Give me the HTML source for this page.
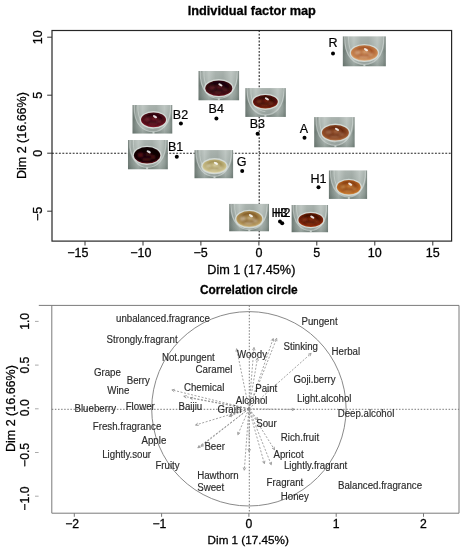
<!DOCTYPE html>
<html><head><meta charset="utf-8"><title>Individual factor map</title>
<style>html,body{margin:0;padding:0;background:#fff;} svg{display:block;}</style></head>
<body>
<svg width="463" height="550" viewBox="0 0 463 550">
<defs>
<filter id="blr" x="-50%" y="-50%" width="200%" height="200%"><feGaussianBlur stdDeviation="1.1"/></filter>
<filter id="soft"><feGaussianBlur stdDeviation="0.35"/></filter>
<linearGradient id="gbg" x1="0" y1="0" x2="1" y2="0"><stop offset="0" stop-color="#65716b"/><stop offset="0.12" stop-color="#86928c"/><stop offset="0.26" stop-color="#aab4af"/><stop offset="0.42" stop-color="#88948e"/><stop offset="0.6" stop-color="#828e88"/><stop offset="0.8" stop-color="#aab4af"/><stop offset="0.92" stop-color="#8e9a94"/><stop offset="1" stop-color="#6c7973"/></linearGradient>
<linearGradient id="gsh" x1="0" y1="0" x2="0" y2="1"><stop offset="0" stop-color="#ffffff" stop-opacity="0.18"/><stop offset="0.5" stop-color="#ffffff" stop-opacity="0"/><stop offset="1" stop-color="#50605a" stop-opacity="0.25"/></linearGradient>
<clipPath id="cp0"><rect x="132.3" y="104.9" width="40.2" height="28.8"/></clipPath>
<radialGradient id="wn0" cx="0.5" cy="0.42" r="0.6"><stop offset="0" stop-color="#5a0c1a"/><stop offset="0.45" stop-color="#2c040e"/><stop offset="0.8" stop-color="#5a0c1a"/><stop offset="1" stop-color="#9a2a38"/></radialGradient>
<clipPath id="cp1"><rect x="198.3" y="70.9" width="41.0" height="29.6"/></clipPath>
<radialGradient id="wn1" cx="0.5" cy="0.42" r="0.6"><stop offset="0" stop-color="#3e0a12"/><stop offset="0.45" stop-color="#160308"/><stop offset="0.8" stop-color="#3e0a12"/><stop offset="1" stop-color="#7e1a24"/></radialGradient>
<clipPath id="cp2"><rect x="245.2" y="88.1" width="40.7" height="28.8"/></clipPath>
<radialGradient id="wn2" cx="0.5" cy="0.42" r="0.6"><stop offset="0" stop-color="#5e1208"/><stop offset="0.45" stop-color="#320806"/><stop offset="0.8" stop-color="#5e1208"/><stop offset="1" stop-color="#b04a20"/></radialGradient>
<clipPath id="cp3"><rect x="127.9" y="139.9" width="40.0" height="29.6"/></clipPath>
<radialGradient id="wn3" cx="0.5" cy="0.42" r="0.6"><stop offset="0" stop-color="#160306"/><stop offset="0.45" stop-color="#080204"/><stop offset="0.8" stop-color="#160306"/><stop offset="1" stop-color="#8a1020"/></radialGradient>
<clipPath id="cp4"><rect x="194.3" y="150.1" width="39.0" height="28.3"/></clipPath>
<radialGradient id="wn4" cx="0.5" cy="0.42" r="0.6"><stop offset="0" stop-color="#cabf8a"/><stop offset="0.45" stop-color="#a49458"/><stop offset="0.8" stop-color="#cabf8a"/><stop offset="1" stop-color="#ebe6cc"/></radialGradient>
<clipPath id="cp5"><rect x="342.6" y="36.2" width="43.3" height="30.3"/></clipPath>
<radialGradient id="wn5" cx="0.5" cy="0.42" r="0.6"><stop offset="0" stop-color="#c98650"/><stop offset="0.45" stop-color="#a8582a"/><stop offset="0.8" stop-color="#c98650"/><stop offset="1" stop-color="#e6bc92"/></radialGradient>
<clipPath id="cp6"><rect x="314.1" y="117.1" width="40.7" height="30.4"/></clipPath>
<radialGradient id="wn6" cx="0.5" cy="0.42" r="0.6"><stop offset="0" stop-color="#94502a"/><stop offset="0.45" stop-color="#6a2a10"/><stop offset="0.8" stop-color="#94502a"/><stop offset="1" stop-color="#c08458"/></radialGradient>
<clipPath id="cp7"><rect x="328.7" y="170.3" width="38.6" height="28.6"/></clipPath>
<radialGradient id="wn7" cx="0.5" cy="0.42" r="0.6"><stop offset="0" stop-color="#b86624"/><stop offset="0.45" stop-color="#8a4010"/><stop offset="0.8" stop-color="#b86624"/><stop offset="1" stop-color="#dca050"/></radialGradient>
<clipPath id="cp8"><rect x="229.1" y="203.7" width="40.0" height="27.8"/></clipPath>
<radialGradient id="wn8" cx="0.5" cy="0.42" r="0.6"><stop offset="0" stop-color="#b4965a"/><stop offset="0.45" stop-color="#86602a"/><stop offset="0.8" stop-color="#b4965a"/><stop offset="1" stop-color="#dccca0"/></radialGradient>
<clipPath id="cp9"><rect x="291.4" y="204.9" width="36.8" height="27.5"/></clipPath>
<radialGradient id="wn9" cx="0.5" cy="0.42" r="0.6"><stop offset="0" stop-color="#7a2408"/><stop offset="0.45" stop-color="#420e04"/><stop offset="0.8" stop-color="#7a2408"/><stop offset="1" stop-color="#c04a18"/></radialGradient>
</defs>
<rect width="463" height="550" fill="#fff"/>
<rect x="52" y="30.5" width="399.6" height="210.6" fill="none" stroke="#262626" stroke-width="1.2"/>
<line x1="52" y1="153.2" x2="451.6" y2="153.2" stroke="#222" stroke-width="1.1" stroke-dasharray="1.9,1.55"/>
<line x1="259.2" y1="30.2" x2="259.2" y2="241.1" stroke="#222" stroke-width="1.1" stroke-dasharray="1.9,1.55"/>
<line x1="85.0" y1="241.1" x2="85.0" y2="245.5" stroke="#333" stroke-width="1"/>
<text x="77.8" y="256.6" font-size="12.5" text-anchor="middle" fill="#000" stroke="#000" stroke-width="0.28" font-family="Liberation Sans, Arial, sans-serif">−15</text>
<line x1="143.0" y1="241.1" x2="143.0" y2="245.5" stroke="#333" stroke-width="1"/>
<text x="140.8" y="256.6" font-size="12.5" text-anchor="middle" fill="#000" stroke="#000" stroke-width="0.28" font-family="Liberation Sans, Arial, sans-serif">−10</text>
<line x1="200.9" y1="241.1" x2="200.9" y2="245.5" stroke="#333" stroke-width="1"/>
<text x="200.6" y="256.6" font-size="12.5" text-anchor="middle" fill="#000" stroke="#000" stroke-width="0.28" font-family="Liberation Sans, Arial, sans-serif">−5</text>
<line x1="258.9" y1="241.1" x2="258.9" y2="245.5" stroke="#333" stroke-width="1"/>
<text x="258.9" y="256.6" font-size="12.5" text-anchor="middle" fill="#000" stroke="#000" stroke-width="0.28" font-family="Liberation Sans, Arial, sans-serif">0</text>
<line x1="316.8" y1="241.1" x2="316.8" y2="245.5" stroke="#333" stroke-width="1"/>
<text x="316.8" y="256.6" font-size="12.5" text-anchor="middle" fill="#000" stroke="#000" stroke-width="0.28" font-family="Liberation Sans, Arial, sans-serif">5</text>
<line x1="374.8" y1="241.1" x2="374.8" y2="245.5" stroke="#333" stroke-width="1"/>
<text x="374.8" y="256.6" font-size="12.5" text-anchor="middle" fill="#000" stroke="#000" stroke-width="0.28" font-family="Liberation Sans, Arial, sans-serif">10</text>
<line x1="432.8" y1="241.1" x2="432.8" y2="245.5" stroke="#333" stroke-width="1"/>
<text x="432.8" y="256.6" font-size="12.5" text-anchor="middle" fill="#000" stroke="#000" stroke-width="0.28" font-family="Liberation Sans, Arial, sans-serif">15</text>
<line x1="47.2" y1="211.2" x2="52" y2="211.2" stroke="#333" stroke-width="1"/>
<text transform="translate(41.8,213.8) rotate(-90)" font-size="12.5" text-anchor="middle" fill="#000" stroke="#000" stroke-width="0.28" font-family="Liberation Sans, Arial, sans-serif">−5</text>
<line x1="47.2" y1="153.2" x2="52" y2="153.2" stroke="#333" stroke-width="1"/>
<text transform="translate(41.8,153.2) rotate(-90)" font-size="12.5" text-anchor="middle" fill="#000" stroke="#000" stroke-width="0.28" font-family="Liberation Sans, Arial, sans-serif">0</text>
<line x1="47.2" y1="95.2" x2="52" y2="95.2" stroke="#333" stroke-width="1"/>
<text transform="translate(41.8,95.2) rotate(-90)" font-size="12.5" text-anchor="middle" fill="#000" stroke="#000" stroke-width="0.28" font-family="Liberation Sans, Arial, sans-serif">5</text>
<line x1="47.2" y1="37.2" x2="52" y2="37.2" stroke="#333" stroke-width="1"/>
<text transform="translate(41.8,37.2) rotate(-90)" font-size="12.5" text-anchor="middle" fill="#000" stroke="#000" stroke-width="0.28" font-family="Liberation Sans, Arial, sans-serif">10</text>
<text transform="translate(26.2,135.6) rotate(-90)" font-size="12.5" text-anchor="middle" fill="#000" stroke="#000" stroke-width="0.28" font-family="Liberation Sans, Arial, sans-serif">Dim 2 (16.66%)</text>
<text x="251.3" y="274.3" font-size="12.7" text-anchor="middle" fill="#000" stroke="#000" stroke-width="0.28" font-family="Liberation Sans, Arial, sans-serif">Dim 1 (17.45%)</text>
<text x="251.8" y="14.9" font-size="12.75" font-weight="bold" text-anchor="middle" fill="#000" stroke="#000" stroke-width="0.28" font-family="Liberation Sans, Arial, sans-serif">Individual factor map</text>
<g clip-path="url(#cp0)"><g filter="url(#soft)">
<rect x="132.3" y="104.9" width="40.2" height="28.8" fill="url(#gbg)"/>
<rect x="132.3" y="104.9" width="40.2" height="28.8" fill="url(#gsh)"/>
<ellipse cx="153.5" cy="112.1" rx="18.1" ry="19.0" fill="#d0d8d4" opacity="0.28"/>
<path d="M134.3,104.9 C133.5,125.6 144.4,131.7 153.5,131.7 C160.4,131.7 171.3,125.6 170.5,104.9" fill="none" stroke="#e4eae7" stroke-width="1.2" opacity="0.5"/>
<path d="M137.9,104.9 C137.1,120.7 144.4,127.9 153.5,128.5" fill="none" stroke="#dfe6e2" stroke-width="0.9" opacity="0.5"/>
<ellipse cx="153.5" cy="119.8" rx="13.8" ry="8.7" fill="#dde4e0" opacity="0.8"/>
<ellipse cx="153.5" cy="119.8" rx="12.5" ry="7.4" fill="url(#wn0)"/>
<g filter="url(#blr)">
<ellipse cx="147.2" cy="119.4" rx="2.8" ry="2.2" fill="#a84050" opacity="0.5"/>
<ellipse cx="159.1" cy="121.3" rx="2.5" ry="1.9" fill="#a84050" opacity="0.45"/>
<ellipse cx="152.9" cy="123.5" rx="4.4" ry="1.5" fill="#a84050" opacity="0.4"/>
<ellipse cx="154.8" cy="119.1" rx="3.1" ry="1.5" fill="#a84050" opacity="0.3"/>
</g>
<ellipse cx="155.0" cy="116.7" rx="2.3" ry="1.1" fill="#ffffff" opacity="0.85" transform="rotate(30 155.0 116.7)"/>
<rect x="152.5" y="131.7" width="2" height="2.3" fill="#c4ccc8"/>
</g></g>
<g clip-path="url(#cp1)"><g filter="url(#soft)">
<rect x="198.3" y="70.9" width="41.0" height="29.6" fill="url(#gbg)"/>
<rect x="198.3" y="70.9" width="41.0" height="29.6" fill="url(#gsh)"/>
<ellipse cx="218.8" cy="78.3" rx="18.4" ry="19.5" fill="#d0d8d4" opacity="0.28"/>
<path d="M200.4,70.9 C199.5,92.2 210.6,98.4 218.8,98.4 C227.0,98.4 238.1,92.2 237.2,70.9" fill="none" stroke="#e4eae7" stroke-width="1.2" opacity="0.5"/>
<path d="M204.0,70.9 C203.2,87.2 210.6,94.6 218.8,95.2" fill="none" stroke="#dfe6e2" stroke-width="0.9" opacity="0.5"/>
<ellipse cx="218.8" cy="88.2" rx="14.8" ry="9.1" fill="#dde4e0" opacity="0.8"/>
<ellipse cx="218.8" cy="88.2" rx="13.5" ry="7.8" fill="url(#wn1)"/>
<g filter="url(#blr)">
<ellipse cx="212.1" cy="87.8" rx="3.0" ry="2.3" fill="#9a3a44" opacity="0.5"/>
<ellipse cx="224.9" cy="89.8" rx="2.7" ry="1.9" fill="#9a3a44" opacity="0.45"/>
<ellipse cx="218.1" cy="92.1" rx="4.7" ry="1.6" fill="#9a3a44" opacity="0.4"/>
<ellipse cx="220.2" cy="87.4" rx="3.4" ry="1.6" fill="#9a3a44" opacity="0.3"/>
</g>
<ellipse cx="220.4" cy="84.9" rx="2.3" ry="1.1" fill="#ffffff" opacity="0.85" transform="rotate(30 220.4 84.9)"/>
<rect x="217.8" y="98.4" width="2" height="2.4" fill="#c4ccc8"/>
</g></g>
<g clip-path="url(#cp2)"><g filter="url(#soft)">
<rect x="245.2" y="88.1" width="40.7" height="28.8" fill="url(#gbg)"/>
<rect x="245.2" y="88.1" width="40.7" height="28.8" fill="url(#gsh)"/>
<ellipse cx="265.4" cy="95.3" rx="18.3" ry="19.0" fill="#d0d8d4" opacity="0.28"/>
<path d="M247.2,88.1 C246.4,108.8 257.4,114.9 265.4,114.9 C273.7,114.9 284.7,108.8 283.9,88.1" fill="none" stroke="#e4eae7" stroke-width="1.2" opacity="0.5"/>
<path d="M250.9,88.1 C250.1,103.9 257.4,111.1 265.4,111.7" fill="none" stroke="#dfe6e2" stroke-width="0.9" opacity="0.5"/>
<ellipse cx="265.4" cy="101.8" rx="13.7" ry="8.1" fill="#dde4e0" opacity="0.8"/>
<ellipse cx="265.4" cy="101.8" rx="12.4" ry="6.8" fill="url(#wn2)"/>
<g filter="url(#blr)">
<ellipse cx="259.2" cy="101.5" rx="2.7" ry="2.0" fill="#c05a30" opacity="0.5"/>
<ellipse cx="271.0" cy="103.2" rx="2.5" ry="1.7" fill="#c05a30" opacity="0.45"/>
<ellipse cx="264.8" cy="105.2" rx="4.3" ry="1.4" fill="#c05a30" opacity="0.4"/>
<ellipse cx="266.6" cy="101.1" rx="3.1" ry="1.4" fill="#c05a30" opacity="0.3"/>
</g>
<ellipse cx="266.9" cy="98.9" rx="2.3" ry="1.1" fill="#ffffff" opacity="0.85" transform="rotate(30 266.9 98.9)"/>
<rect x="264.4" y="114.9" width="2" height="2.3" fill="#c4ccc8"/>
</g></g>
<g clip-path="url(#cp3)"><g filter="url(#soft)">
<rect x="127.9" y="139.9" width="40.0" height="29.6" fill="url(#gbg)"/>
<rect x="127.9" y="139.9" width="40.0" height="29.6" fill="url(#gsh)"/>
<ellipse cx="147.1" cy="147.3" rx="18.0" ry="19.5" fill="#d0d8d4" opacity="0.28"/>
<path d="M129.9,139.9 C129.1,161.2 139.9,167.4 147.1,167.4 C155.9,167.4 166.7,161.2 165.9,139.9" fill="none" stroke="#e4eae7" stroke-width="1.2" opacity="0.5"/>
<path d="M133.5,139.9 C132.7,156.2 139.9,163.6 147.1,164.2" fill="none" stroke="#dfe6e2" stroke-width="0.9" opacity="0.5"/>
<ellipse cx="147.1" cy="155.3" rx="14.5" ry="9.6" fill="#dde4e0" opacity="0.8"/>
<ellipse cx="147.1" cy="155.3" rx="13.2" ry="8.3" fill="url(#wn3)"/>
<g filter="url(#blr)">
<ellipse cx="140.5" cy="154.9" rx="2.9" ry="2.5" fill="#a01828" opacity="0.5"/>
<ellipse cx="153.0" cy="157.0" rx="2.6" ry="2.1" fill="#a01828" opacity="0.45"/>
<ellipse cx="146.4" cy="159.5" rx="4.6" ry="1.7" fill="#a01828" opacity="0.4"/>
<ellipse cx="148.4" cy="154.5" rx="3.3" ry="1.7" fill="#a01828" opacity="0.3"/>
</g>
<ellipse cx="148.7" cy="151.8" rx="2.3" ry="1.1" fill="#ffffff" opacity="0.85" transform="rotate(30 148.7 151.8)"/>
<rect x="146.1" y="167.4" width="2" height="2.4" fill="#c4ccc8"/>
</g></g>
<g clip-path="url(#cp4)"><g filter="url(#soft)">
<rect x="194.3" y="150.1" width="39.0" height="28.3" fill="url(#gbg)"/>
<rect x="194.3" y="150.1" width="39.0" height="28.3" fill="url(#gsh)"/>
<ellipse cx="214.5" cy="157.2" rx="17.6" ry="18.7" fill="#d0d8d4" opacity="0.28"/>
<path d="M196.2,150.1 C195.5,170.5 206.0,176.4 214.5,176.4 C221.6,176.4 232.1,170.5 231.4,150.1" fill="none" stroke="#e4eae7" stroke-width="1.2" opacity="0.5"/>
<path d="M199.8,150.1 C199.0,165.7 206.0,172.7 214.5,173.3" fill="none" stroke="#dfe6e2" stroke-width="0.9" opacity="0.5"/>
<ellipse cx="214.5" cy="166.2" rx="13.3" ry="8.1" fill="#dde4e0" opacity="0.8"/>
<ellipse cx="214.5" cy="166.2" rx="12.0" ry="6.8" fill="url(#wn4)"/>
<g filter="url(#blr)">
<ellipse cx="208.5" cy="165.9" rx="2.6" ry="2.0" fill="#f4f2e4" opacity="0.5"/>
<ellipse cx="219.9" cy="167.6" rx="2.4" ry="1.7" fill="#f4f2e4" opacity="0.45"/>
<ellipse cx="213.9" cy="169.6" rx="4.2" ry="1.4" fill="#f4f2e4" opacity="0.4"/>
<ellipse cx="215.7" cy="165.5" rx="3.0" ry="1.4" fill="#f4f2e4" opacity="0.3"/>
</g>
<ellipse cx="215.9" cy="163.3" rx="2.3" ry="1.1" fill="#ffffff" opacity="0.85" transform="rotate(30 215.9 163.3)"/>
<rect x="213.5" y="176.4" width="2" height="2.3" fill="#c4ccc8"/>
</g></g>
<g clip-path="url(#cp5)"><g filter="url(#soft)">
<rect x="342.6" y="36.2" width="43.3" height="30.3" fill="url(#gbg)"/>
<rect x="342.6" y="36.2" width="43.3" height="30.3" fill="url(#gsh)"/>
<ellipse cx="364.4" cy="43.8" rx="19.5" ry="20.0" fill="#d0d8d4" opacity="0.28"/>
<path d="M344.8,36.2 C343.9,58.0 355.6,64.4 364.4,64.4 C372.9,64.4 384.6,58.0 383.7,36.2" fill="none" stroke="#e4eae7" stroke-width="1.2" opacity="0.5"/>
<path d="M348.7,36.2 C347.8,52.9 355.6,60.4 364.4,61.0" fill="none" stroke="#dfe6e2" stroke-width="0.9" opacity="0.5"/>
<ellipse cx="364.4" cy="53.0" rx="14.8" ry="9.1" fill="#dde4e0" opacity="0.8"/>
<ellipse cx="364.4" cy="53.0" rx="13.5" ry="7.8" fill="url(#wn5)"/>
<g filter="url(#blr)">
<ellipse cx="357.6" cy="52.6" rx="3.0" ry="2.3" fill="#f0d8b8" opacity="0.5"/>
<ellipse cx="370.5" cy="54.6" rx="2.7" ry="1.9" fill="#f0d8b8" opacity="0.45"/>
<ellipse cx="363.7" cy="56.9" rx="4.7" ry="1.6" fill="#f0d8b8" opacity="0.4"/>
<ellipse cx="365.8" cy="52.2" rx="3.4" ry="1.6" fill="#f0d8b8" opacity="0.3"/>
</g>
<ellipse cx="366.0" cy="49.7" rx="2.3" ry="1.1" fill="#ffffff" opacity="0.85" transform="rotate(30 366.0 49.7)"/>
<rect x="363.4" y="64.4" width="2" height="2.4" fill="#c4ccc8"/>
</g></g>
<g clip-path="url(#cp6)"><g filter="url(#soft)">
<rect x="314.1" y="117.1" width="40.7" height="30.4" fill="url(#gbg)"/>
<rect x="314.1" y="117.1" width="40.7" height="30.4" fill="url(#gsh)"/>
<ellipse cx="335.4" cy="124.7" rx="18.3" ry="20.1" fill="#d0d8d4" opacity="0.28"/>
<path d="M316.1,117.1 C315.3,139.0 326.3,145.4 335.4,145.4 C342.6,145.4 353.6,139.0 352.8,117.1" fill="none" stroke="#e4eae7" stroke-width="1.2" opacity="0.5"/>
<path d="M319.8,117.1 C319.0,133.8 326.3,141.4 335.4,142.0" fill="none" stroke="#dfe6e2" stroke-width="0.9" opacity="0.5"/>
<ellipse cx="335.4" cy="132.7" rx="14.8" ry="9.1" fill="#dde4e0" opacity="0.8"/>
<ellipse cx="335.4" cy="132.7" rx="13.5" ry="7.8" fill="url(#wn6)"/>
<g filter="url(#blr)">
<ellipse cx="328.6" cy="132.3" rx="3.0" ry="2.3" fill="#c89a78" opacity="0.5"/>
<ellipse cx="341.5" cy="134.3" rx="2.7" ry="1.9" fill="#c89a78" opacity="0.45"/>
<ellipse cx="334.7" cy="136.6" rx="4.7" ry="1.6" fill="#c89a78" opacity="0.4"/>
<ellipse cx="336.8" cy="131.9" rx="3.4" ry="1.6" fill="#c89a78" opacity="0.3"/>
</g>
<ellipse cx="337.0" cy="129.4" rx="2.3" ry="1.1" fill="#ffffff" opacity="0.85" transform="rotate(30 337.0 129.4)"/>
<rect x="334.4" y="145.4" width="2" height="2.4" fill="#c4ccc8"/>
</g></g>
<g clip-path="url(#cp7)"><g filter="url(#soft)">
<rect x="328.7" y="170.3" width="38.6" height="28.6" fill="url(#gbg)"/>
<rect x="328.7" y="170.3" width="38.6" height="28.6" fill="url(#gsh)"/>
<ellipse cx="348.8" cy="177.5" rx="17.4" ry="18.9" fill="#d0d8d4" opacity="0.28"/>
<path d="M330.6,170.3 C329.9,190.9 340.3,196.9 348.8,196.9 C355.7,196.9 366.1,190.9 365.4,170.3" fill="none" stroke="#e4eae7" stroke-width="1.2" opacity="0.5"/>
<path d="M334.1,170.3 C333.3,186.0 340.3,193.2 348.8,193.8" fill="none" stroke="#dfe6e2" stroke-width="0.9" opacity="0.5"/>
<ellipse cx="348.8" cy="187.3" rx="13.2" ry="8.6" fill="#dde4e0" opacity="0.8"/>
<ellipse cx="348.8" cy="187.3" rx="11.9" ry="7.3" fill="url(#wn7)"/>
<g filter="url(#blr)">
<ellipse cx="342.9" cy="186.9" rx="2.6" ry="2.2" fill="#e8b870" opacity="0.5"/>
<ellipse cx="354.2" cy="188.8" rx="2.4" ry="1.8" fill="#e8b870" opacity="0.45"/>
<ellipse cx="348.2" cy="191.0" rx="4.2" ry="1.5" fill="#e8b870" opacity="0.4"/>
<ellipse cx="350.0" cy="186.6" rx="3.0" ry="1.5" fill="#e8b870" opacity="0.3"/>
</g>
<ellipse cx="350.2" cy="184.2" rx="2.3" ry="1.1" fill="#ffffff" opacity="0.85" transform="rotate(30 350.2 184.2)"/>
<rect x="347.8" y="196.9" width="2" height="2.3" fill="#c4ccc8"/>
</g></g>
<g clip-path="url(#cp8)"><g filter="url(#soft)">
<rect x="229.1" y="203.7" width="40.0" height="27.8" fill="url(#gbg)"/>
<rect x="229.1" y="203.7" width="40.0" height="27.8" fill="url(#gsh)"/>
<ellipse cx="249.3" cy="210.6" rx="18.0" ry="18.3" fill="#d0d8d4" opacity="0.28"/>
<path d="M231.1,203.7 C230.3,223.7 241.1,229.6 249.3,229.6 C257.1,229.6 267.9,223.7 267.1,203.7" fill="none" stroke="#e4eae7" stroke-width="1.2" opacity="0.5"/>
<path d="M234.7,203.7 C233.9,219.0 241.1,225.9 249.3,226.5" fill="none" stroke="#dfe6e2" stroke-width="0.9" opacity="0.5"/>
<ellipse cx="249.3" cy="219.1" rx="14.3" ry="9.3" fill="#dde4e0" opacity="0.8"/>
<ellipse cx="249.3" cy="219.1" rx="13.0" ry="8.0" fill="url(#wn8)"/>
<g filter="url(#blr)">
<ellipse cx="242.8" cy="218.7" rx="2.9" ry="2.4" fill="#f0ece0" opacity="0.5"/>
<ellipse cx="255.2" cy="220.7" rx="2.6" ry="2.0" fill="#f0ece0" opacity="0.45"/>
<ellipse cx="248.7" cy="223.1" rx="4.5" ry="1.6" fill="#f0ece0" opacity="0.4"/>
<ellipse cx="250.6" cy="218.3" rx="3.2" ry="1.6" fill="#f0ece0" opacity="0.3"/>
</g>
<ellipse cx="250.9" cy="215.7" rx="2.3" ry="1.1" fill="#ffffff" opacity="0.85" transform="rotate(30 250.9 215.7)"/>
<rect x="248.3" y="229.6" width="2" height="2.2" fill="#c4ccc8"/>
</g></g>
<g clip-path="url(#cp9)"><g filter="url(#soft)">
<rect x="291.4" y="204.9" width="36.8" height="27.5" fill="url(#gbg)"/>
<rect x="291.4" y="204.9" width="36.8" height="27.5" fill="url(#gsh)"/>
<ellipse cx="310.8" cy="211.8" rx="16.6" ry="18.2" fill="#d0d8d4" opacity="0.28"/>
<path d="M293.2,204.9 C292.5,224.7 302.4,230.5 310.8,230.5 C317.2,230.5 327.1,224.7 326.4,204.9" fill="none" stroke="#e4eae7" stroke-width="1.2" opacity="0.5"/>
<path d="M296.6,204.9 C295.8,220.0 302.4,226.9 310.8,227.4" fill="none" stroke="#dfe6e2" stroke-width="0.9" opacity="0.5"/>
<ellipse cx="310.8" cy="220.0" rx="13.7" ry="8.3" fill="#dde4e0" opacity="0.8"/>
<ellipse cx="310.8" cy="220.0" rx="12.4" ry="7.0" fill="url(#wn9)"/>
<g filter="url(#blr)">
<ellipse cx="304.6" cy="219.7" rx="2.7" ry="2.1" fill="#c85a28" opacity="0.5"/>
<ellipse cx="316.4" cy="221.4" rx="2.5" ry="1.8" fill="#c85a28" opacity="0.45"/>
<ellipse cx="310.2" cy="223.5" rx="4.3" ry="1.4" fill="#c85a28" opacity="0.4"/>
<ellipse cx="312.0" cy="219.3" rx="3.1" ry="1.4" fill="#c85a28" opacity="0.3"/>
</g>
<ellipse cx="312.3" cy="217.1" rx="2.3" ry="1.1" fill="#ffffff" opacity="0.85" transform="rotate(30 312.3 217.1)"/>
<rect x="309.8" y="230.5" width="2" height="2.2" fill="#c4ccc8"/>
</g></g>
<circle cx="333.0" cy="53.4" r="2.0" fill="#000"/>
<text x="332.9" y="46.9" font-size="12.5" text-anchor="middle" fill="#000" stroke="#000" stroke-width="0.2" font-family="Liberation Sans, Arial, sans-serif">R</text>
<circle cx="180.9" cy="123.5" r="2.0" fill="#000"/>
<text x="180.5" y="119.2" font-size="12.5" text-anchor="middle" fill="#000" stroke="#000" stroke-width="0.2" font-family="Liberation Sans, Arial, sans-serif">B2</text>
<circle cx="216.4" cy="118.5" r="2.0" fill="#000"/>
<text x="216.2" y="112.8" font-size="12.5" text-anchor="middle" fill="#000" stroke="#000" stroke-width="0.2" font-family="Liberation Sans, Arial, sans-serif">B4</text>
<circle cx="257.6" cy="133.8" r="2.0" fill="#000"/>
<text x="257.4" y="128.3" font-size="12.5" text-anchor="middle" fill="#000" stroke="#000" stroke-width="0.2" font-family="Liberation Sans, Arial, sans-serif">B3</text>
<circle cx="304.5" cy="137.7" r="2.0" fill="#000"/>
<text x="304.0" y="132.9" font-size="12.5" text-anchor="middle" fill="#000" stroke="#000" stroke-width="0.2" font-family="Liberation Sans, Arial, sans-serif">A</text>
<circle cx="176.8" cy="156.7" r="2.0" fill="#000"/>
<text x="175.6" y="151.1" font-size="12.5" text-anchor="middle" fill="#000" stroke="#000" stroke-width="0.2" font-family="Liberation Sans, Arial, sans-serif">B1</text>
<circle cx="242.2" cy="170.9" r="2.0" fill="#000"/>
<text x="241.6" y="166.3" font-size="12.5" text-anchor="middle" fill="#000" stroke="#000" stroke-width="0.2" font-family="Liberation Sans, Arial, sans-serif">G</text>
<circle cx="318.5" cy="187.3" r="2.0" fill="#000"/>
<text x="318.4" y="182.8" font-size="12.5" text-anchor="middle" fill="#000" stroke="#000" stroke-width="0.2" font-family="Liberation Sans, Arial, sans-serif">H1</text>
<circle cx="280.0" cy="221.6" r="2.0" fill="#000"/>
<text x="279.6" y="217.0" font-size="12.5" text-anchor="middle" fill="#000" stroke="#000" stroke-width="0.2" font-family="Liberation Sans, Arial, sans-serif">H3</text>
<circle cx="282.2" cy="223.2" r="2.0" fill="#000"/>
<text x="282.6" y="217.2" font-size="12.5" text-anchor="middle" fill="#000" stroke="#000" stroke-width="0.2" font-family="Liberation Sans, Arial, sans-serif">H2</text>
<line x1="38.8" y1="305.4" x2="459.0" y2="305.4" stroke="#7a7a7a" stroke-width="1"/>
<line x1="51.8" y1="305.4" x2="51.8" y2="513.2" stroke="#7a7a7a" stroke-width="1"/>
<line x1="51.8" y1="513.2" x2="459.0" y2="513.2" stroke="#7a7a7a" stroke-width="1"/>
<line x1="459.0" y1="305.4" x2="459.0" y2="513.2" stroke="#7a7a7a" stroke-width="1"/>
<line x1="51.8" y1="409.3" x2="459.0" y2="409.3" stroke="#7a7a7a" stroke-width="1" stroke-dasharray="1.5,1.6"/>
<line x1="249.3" y1="305.4" x2="249.3" y2="513.2" stroke="#7a7a7a" stroke-width="1" stroke-dasharray="1.5,1.6"/>
<circle cx="248.9" cy="408.8" r="97.2" fill="none" stroke="#8a8a8a" stroke-width="1"/>
<line x1="74.3" y1="513.2" x2="74.3" y2="516.8" stroke="#777" stroke-width="1"/>
<text x="72.1" y="527.6" font-size="12.2" text-anchor="middle" fill="#000" stroke="#000" stroke-width="0.28" font-family="Liberation Sans, Arial, sans-serif">−2</text>
<line x1="161.6" y1="513.2" x2="161.6" y2="516.8" stroke="#777" stroke-width="1"/>
<text x="159.4" y="527.6" font-size="12.2" text-anchor="middle" fill="#000" stroke="#000" stroke-width="0.28" font-family="Liberation Sans, Arial, sans-serif">−1</text>
<line x1="248.9" y1="513.2" x2="248.9" y2="516.8" stroke="#777" stroke-width="1"/>
<text x="248.9" y="527.6" font-size="12.2" text-anchor="middle" fill="#000" stroke="#000" stroke-width="0.28" font-family="Liberation Sans, Arial, sans-serif">0</text>
<line x1="336.2" y1="513.2" x2="336.2" y2="516.8" stroke="#777" stroke-width="1"/>
<text x="336.2" y="527.6" font-size="12.2" text-anchor="middle" fill="#000" stroke="#000" stroke-width="0.28" font-family="Liberation Sans, Arial, sans-serif">1</text>
<line x1="423.5" y1="513.2" x2="423.5" y2="516.8" stroke="#777" stroke-width="1"/>
<text x="423.5" y="527.6" font-size="12.2" text-anchor="middle" fill="#000" stroke="#000" stroke-width="0.28" font-family="Liberation Sans, Arial, sans-serif">2</text>
<line x1="35" y1="496.2" x2="38.6" y2="496.2" stroke="#aaa" stroke-width="1"/>
<text transform="translate(28.6,498.6) rotate(-90)" font-size="12.2" text-anchor="middle" fill="#000" stroke="#000" stroke-width="0.28" font-family="Liberation Sans, Arial, sans-serif">−1.0</text>
<line x1="35" y1="452.5" x2="38.6" y2="452.5" stroke="#aaa" stroke-width="1"/>
<text transform="translate(28.6,454.9) rotate(-90)" font-size="12.2" text-anchor="middle" fill="#000" stroke="#000" stroke-width="0.28" font-family="Liberation Sans, Arial, sans-serif">−0.5</text>
<line x1="35" y1="408.8" x2="38.6" y2="408.8" stroke="#aaa" stroke-width="1"/>
<text transform="translate(28.6,407.8) rotate(-90)" font-size="12.2" text-anchor="middle" fill="#000" stroke="#000" stroke-width="0.28" font-family="Liberation Sans, Arial, sans-serif">0.0</text>
<line x1="35" y1="365.1" x2="38.6" y2="365.1" stroke="#aaa" stroke-width="1"/>
<text transform="translate(28.6,365.1) rotate(-90)" font-size="12.2" text-anchor="middle" fill="#000" stroke="#000" stroke-width="0.28" font-family="Liberation Sans, Arial, sans-serif">0.5</text>
<line x1="35" y1="321.4" x2="38.6" y2="321.4" stroke="#aaa" stroke-width="1"/>
<text transform="translate(28.6,321.4) rotate(-90)" font-size="12.2" text-anchor="middle" fill="#000" stroke="#000" stroke-width="0.28" font-family="Liberation Sans, Arial, sans-serif">1.0</text>
<text transform="translate(14.6,408.6) rotate(-90)" font-size="12.5" text-anchor="middle" fill="#000" stroke="#000" stroke-width="0.28" font-family="Liberation Sans, Arial, sans-serif">Dim 2 (16.66%)</text>
<text x="248.2" y="544.3" font-size="11.7" text-anchor="middle" fill="#000" stroke="#000" stroke-width="0.28" font-family="Liberation Sans, Arial, sans-serif">Dim 1 (17.45%)</text>
<text x="248.8" y="293.8" font-size="11.9" font-weight="bold" text-anchor="middle" fill="#000" stroke="#000" stroke-width="0.28" font-family="Liberation Sans, Arial, sans-serif">Correlation circle</text>
<line x1="248.9" y1="408.8" x2="236.6" y2="348.7" stroke="#8c8c8c" stroke-width="0.8" stroke-dasharray="2,1.6"/>
<line x1="236.6" y1="348.7" x2="235.9" y2="351.6" stroke="#8c8c8c" stroke-width="0.8"/>
<line x1="236.6" y1="348.7" x2="238.4" y2="351.1" stroke="#8c8c8c" stroke-width="0.8"/>
<line x1="248.9" y1="408.8" x2="254" y2="347.5" stroke="#8c8c8c" stroke-width="0.8" stroke-dasharray="2,1.6"/>
<line x1="254" y1="347.5" x2="252.5" y2="350.1" stroke="#8c8c8c" stroke-width="0.8"/>
<line x1="254" y1="347.5" x2="255.1" y2="350.3" stroke="#8c8c8c" stroke-width="0.8"/>
<line x1="248.9" y1="408.8" x2="257.5" y2="358" stroke="#8c8c8c" stroke-width="0.8" stroke-dasharray="2,1.6"/>
<line x1="257.5" y1="358" x2="255.8" y2="360.4" stroke="#8c8c8c" stroke-width="0.8"/>
<line x1="257.5" y1="358" x2="258.3" y2="360.9" stroke="#8c8c8c" stroke-width="0.8"/>
<line x1="248.9" y1="408.8" x2="273.2" y2="338.5" stroke="#8c8c8c" stroke-width="0.8" stroke-dasharray="2,1.6"/>
<line x1="273.2" y1="338.5" x2="271.1" y2="340.6" stroke="#8c8c8c" stroke-width="0.8"/>
<line x1="273.2" y1="338.5" x2="273.6" y2="341.5" stroke="#8c8c8c" stroke-width="0.8"/>
<line x1="248.9" y1="408.8" x2="276.7" y2="338.3" stroke="#8c8c8c" stroke-width="0.8" stroke-dasharray="2,1.6"/>
<line x1="276.7" y1="338.3" x2="274.5" y2="340.3" stroke="#8c8c8c" stroke-width="0.8"/>
<line x1="276.7" y1="338.3" x2="276.9" y2="341.3" stroke="#8c8c8c" stroke-width="0.8"/>
<line x1="248.9" y1="408.8" x2="311.1" y2="353.4" stroke="#8c8c8c" stroke-width="0.8" stroke-dasharray="2,1.6"/>
<line x1="311.1" y1="353.4" x2="308.2" y2="354.2" stroke="#8c8c8c" stroke-width="0.8"/>
<line x1="311.1" y1="353.4" x2="310.0" y2="356.2" stroke="#8c8c8c" stroke-width="0.8"/>
<line x1="248.9" y1="408.8" x2="171.9" y2="389.9" stroke="#8c8c8c" stroke-width="0.8" stroke-dasharray="2,1.6"/>
<line x1="171.9" y1="389.9" x2="174.2" y2="391.8" stroke="#8c8c8c" stroke-width="0.8"/>
<line x1="171.9" y1="389.9" x2="174.8" y2="389.3" stroke="#8c8c8c" stroke-width="0.8"/>
<line x1="248.9" y1="408.8" x2="183.8" y2="396.3" stroke="#8c8c8c" stroke-width="0.8" stroke-dasharray="2,1.6"/>
<line x1="183.8" y1="396.3" x2="186.2" y2="398.1" stroke="#8c8c8c" stroke-width="0.8"/>
<line x1="183.8" y1="396.3" x2="186.7" y2="395.5" stroke="#8c8c8c" stroke-width="0.8"/>
<line x1="248.9" y1="408.8" x2="190.2" y2="398" stroke="#8c8c8c" stroke-width="0.8" stroke-dasharray="2,1.6"/>
<line x1="190.2" y1="398" x2="192.6" y2="399.8" stroke="#8c8c8c" stroke-width="0.8"/>
<line x1="190.2" y1="398" x2="193.1" y2="397.2" stroke="#8c8c8c" stroke-width="0.8"/>
<line x1="248.9" y1="408.8" x2="195.6" y2="425" stroke="#8c8c8c" stroke-width="0.8" stroke-dasharray="2,1.6"/>
<line x1="195.6" y1="425" x2="198.6" y2="425.5" stroke="#8c8c8c" stroke-width="0.8"/>
<line x1="195.6" y1="425" x2="197.8" y2="423.0" stroke="#8c8c8c" stroke-width="0.8"/>
<line x1="248.9" y1="408.8" x2="197.8" y2="447.8" stroke="#8c8c8c" stroke-width="0.8" stroke-dasharray="2,1.6"/>
<line x1="197.8" y1="447.8" x2="200.7" y2="447.2" stroke="#8c8c8c" stroke-width="0.8"/>
<line x1="197.8" y1="447.8" x2="199.2" y2="445.1" stroke="#8c8c8c" stroke-width="0.8"/>
<line x1="248.9" y1="408.8" x2="229" y2="416.4" stroke="#8c8c8c" stroke-width="0.8" stroke-dasharray="2,1.6"/>
<line x1="229" y1="416.4" x2="232.0" y2="416.7" stroke="#8c8c8c" stroke-width="0.8"/>
<line x1="229" y1="416.4" x2="231.1" y2="414.2" stroke="#8c8c8c" stroke-width="0.8"/>
<line x1="248.9" y1="408.8" x2="237.8" y2="434.8" stroke="#8c8c8c" stroke-width="0.8" stroke-dasharray="2,1.6"/>
<line x1="237.8" y1="434.8" x2="240.1" y2="432.8" stroke="#8c8c8c" stroke-width="0.8"/>
<line x1="237.8" y1="434.8" x2="237.7" y2="431.8" stroke="#8c8c8c" stroke-width="0.8"/>
<line x1="248.9" y1="408.8" x2="201" y2="446.4" stroke="#8c8c8c" stroke-width="0.8" stroke-dasharray="2,1.6"/>
<line x1="201" y1="446.4" x2="203.9" y2="445.8" stroke="#8c8c8c" stroke-width="0.8"/>
<line x1="201" y1="446.4" x2="202.3" y2="443.7" stroke="#8c8c8c" stroke-width="0.8"/>
<line x1="248.9" y1="408.8" x2="244.3" y2="470.2" stroke="#8c8c8c" stroke-width="0.8" stroke-dasharray="2,1.6"/>
<line x1="244.3" y1="470.2" x2="245.8" y2="467.6" stroke="#8c8c8c" stroke-width="0.8"/>
<line x1="244.3" y1="470.2" x2="243.2" y2="467.4" stroke="#8c8c8c" stroke-width="0.8"/>
<line x1="248.9" y1="408.8" x2="249.2" y2="451.8" stroke="#8c8c8c" stroke-width="0.8" stroke-dasharray="2,1.6"/>
<line x1="249.2" y1="451.8" x2="250.5" y2="449.1" stroke="#8c8c8c" stroke-width="0.8"/>
<line x1="249.2" y1="451.8" x2="247.9" y2="449.1" stroke="#8c8c8c" stroke-width="0.8"/>
<line x1="248.9" y1="408.8" x2="264.4" y2="463.7" stroke="#8c8c8c" stroke-width="0.8" stroke-dasharray="2,1.6"/>
<line x1="264.4" y1="463.7" x2="264.9" y2="460.7" stroke="#8c8c8c" stroke-width="0.8"/>
<line x1="264.4" y1="463.7" x2="262.4" y2="461.5" stroke="#8c8c8c" stroke-width="0.8"/>
<line x1="248.9" y1="408.8" x2="271.3" y2="464.8" stroke="#8c8c8c" stroke-width="0.8" stroke-dasharray="2,1.6"/>
<line x1="271.3" y1="464.8" x2="271.5" y2="461.8" stroke="#8c8c8c" stroke-width="0.8"/>
<line x1="271.3" y1="464.8" x2="269.1" y2="462.8" stroke="#8c8c8c" stroke-width="0.8"/>
<line x1="248.9" y1="408.8" x2="274.5" y2="449.7" stroke="#8c8c8c" stroke-width="0.8" stroke-dasharray="2,1.6"/>
<line x1="274.5" y1="449.7" x2="274.2" y2="446.7" stroke="#8c8c8c" stroke-width="0.8"/>
<line x1="274.5" y1="449.7" x2="272.0" y2="448.1" stroke="#8c8c8c" stroke-width="0.8"/>
<line x1="248.9" y1="408.8" x2="294.6" y2="409.4" stroke="#8c8c8c" stroke-width="0.8" stroke-dasharray="2,1.6"/>
<line x1="294.6" y1="409.4" x2="291.9" y2="408.1" stroke="#8c8c8c" stroke-width="0.8"/>
<line x1="294.6" y1="409.4" x2="291.9" y2="410.7" stroke="#8c8c8c" stroke-width="0.8"/>
<line x1="248.9" y1="408.8" x2="258" y2="420" stroke="#8c8c8c" stroke-width="0.8" stroke-dasharray="2,1.6"/>
<line x1="258" y1="420" x2="257.3" y2="417.1" stroke="#8c8c8c" stroke-width="0.8"/>
<line x1="258" y1="420" x2="255.3" y2="418.7" stroke="#8c8c8c" stroke-width="0.8"/>
<line x1="248.9" y1="408.8" x2="230" y2="415" stroke="#8c8c8c" stroke-width="0.8" stroke-dasharray="2,1.6"/>
<line x1="230" y1="415" x2="233.0" y2="415.4" stroke="#8c8c8c" stroke-width="0.8"/>
<line x1="230" y1="415" x2="232.2" y2="412.9" stroke="#8c8c8c" stroke-width="0.8"/>
<text x="116" y="321.9" font-size="10.0" textLength="93.8" lengthAdjust="spacingAndGlyphs" fill="#2a2a2a" stroke="#2a2a2a" stroke-width="0.15" font-family="Liberation Sans, Arial, sans-serif">unbalanced.fragrance</text>
<text x="106.6" y="343.0" font-size="10.0" textLength="71.0" lengthAdjust="spacingAndGlyphs" fill="#2a2a2a" stroke="#2a2a2a" stroke-width="0.15" font-family="Liberation Sans, Arial, sans-serif">Strongly.fragrant</text>
<text x="161.9" y="361.0" font-size="10.0" textLength="52.9" lengthAdjust="spacingAndGlyphs" fill="#2a2a2a" stroke="#2a2a2a" stroke-width="0.15" font-family="Liberation Sans, Arial, sans-serif">Not.pungent</text>
<text x="93.9" y="376.3" font-size="10.0" textLength="27.0" lengthAdjust="spacingAndGlyphs" fill="#2a2a2a" stroke="#2a2a2a" stroke-width="0.15" font-family="Liberation Sans, Arial, sans-serif">Grape</text>
<text x="126.7" y="384.2" font-size="10.0" textLength="23.2" lengthAdjust="spacingAndGlyphs" fill="#2a2a2a" stroke="#2a2a2a" stroke-width="0.15" font-family="Liberation Sans, Arial, sans-serif">Berry</text>
<text x="107.3" y="394.2" font-size="10.0" textLength="22.1" lengthAdjust="spacingAndGlyphs" fill="#2a2a2a" stroke="#2a2a2a" stroke-width="0.15" font-family="Liberation Sans, Arial, sans-serif">Wine</text>
<text x="74.5" y="411.5" font-size="10.0" textLength="41.5" lengthAdjust="spacingAndGlyphs" fill="#2a2a2a" stroke="#2a2a2a" stroke-width="0.15" font-family="Liberation Sans, Arial, sans-serif">Blueberry</text>
<text x="125.7" y="409.7" font-size="10.0" textLength="29.1" lengthAdjust="spacingAndGlyphs" fill="#2a2a2a" stroke="#2a2a2a" stroke-width="0.15" font-family="Liberation Sans, Arial, sans-serif">Flower</text>
<text x="195.6" y="373.1" font-size="10.0" textLength="36.7" lengthAdjust="spacingAndGlyphs" fill="#2a2a2a" stroke="#2a2a2a" stroke-width="0.15" font-family="Liberation Sans, Arial, sans-serif">Caramel</text>
<text x="183.9" y="390.7" font-size="10.0" textLength="40.4" lengthAdjust="spacingAndGlyphs" fill="#2a2a2a" stroke="#2a2a2a" stroke-width="0.15" font-family="Liberation Sans, Arial, sans-serif">Chemical</text>
<text x="178.5" y="409.9" font-size="10.0" textLength="23.7" lengthAdjust="spacingAndGlyphs" fill="#2a2a2a" stroke="#2a2a2a" stroke-width="0.15" font-family="Liberation Sans, Arial, sans-serif">Baijiu</text>
<text x="237" y="358.3" font-size="10.0" textLength="30.0" lengthAdjust="spacingAndGlyphs" fill="#2a2a2a" stroke="#2a2a2a" stroke-width="0.15" font-family="Liberation Sans, Arial, sans-serif">Woody</text>
<text x="255.2" y="391.7" font-size="10.0" textLength="22.1" lengthAdjust="spacingAndGlyphs" fill="#2a2a2a" stroke="#2a2a2a" stroke-width="0.15" font-family="Liberation Sans, Arial, sans-serif">Paint</text>
<text x="235.7" y="403.7" font-size="10.0" textLength="31.8" lengthAdjust="spacingAndGlyphs" fill="#2a2a2a" stroke="#2a2a2a" stroke-width="0.15" font-family="Liberation Sans, Arial, sans-serif">Alcohol</text>
<text x="217.6" y="413.3" font-size="10.0" textLength="23.7" lengthAdjust="spacingAndGlyphs" fill="#2a2a2a" stroke="#2a2a2a" stroke-width="0.15" font-family="Liberation Sans, Arial, sans-serif">Grain</text>
<text x="301.5" y="325.4" font-size="10.0" textLength="36.1" lengthAdjust="spacingAndGlyphs" fill="#2a2a2a" stroke="#2a2a2a" stroke-width="0.15" font-family="Liberation Sans, Arial, sans-serif">Pungent</text>
<text x="283.5" y="349.6" font-size="10.0" textLength="34.5" lengthAdjust="spacingAndGlyphs" fill="#2a2a2a" stroke="#2a2a2a" stroke-width="0.15" font-family="Liberation Sans, Arial, sans-serif">Stinking</text>
<text x="331.5" y="354.7" font-size="10.0" textLength="28.6" lengthAdjust="spacingAndGlyphs" fill="#2a2a2a" stroke="#2a2a2a" stroke-width="0.15" font-family="Liberation Sans, Arial, sans-serif">Herbal</text>
<text x="293.5" y="383.2" font-size="10.0" textLength="42.0" lengthAdjust="spacingAndGlyphs" fill="#2a2a2a" stroke="#2a2a2a" stroke-width="0.15" font-family="Liberation Sans, Arial, sans-serif">Goji.berry</text>
<text x="297" y="402.2" font-size="10.0" textLength="54.5" lengthAdjust="spacingAndGlyphs" fill="#2a2a2a" stroke="#2a2a2a" stroke-width="0.15" font-family="Liberation Sans, Arial, sans-serif">Light.alcohol</text>
<text x="337.7" y="417.0" font-size="10.0" textLength="56.6" lengthAdjust="spacingAndGlyphs" fill="#2a2a2a" stroke="#2a2a2a" stroke-width="0.15" font-family="Liberation Sans, Arial, sans-serif">Deep.alcohol</text>
<text x="256.2" y="426.9" font-size="10.0" textLength="20.5" lengthAdjust="spacingAndGlyphs" fill="#2a2a2a" stroke="#2a2a2a" stroke-width="0.15" font-family="Liberation Sans, Arial, sans-serif">Sour</text>
<text x="280.8" y="440.7" font-size="10.0" textLength="38.3" lengthAdjust="spacingAndGlyphs" fill="#2a2a2a" stroke="#2a2a2a" stroke-width="0.15" font-family="Liberation Sans, Arial, sans-serif">Rich.fruit</text>
<text x="92.8" y="429.9" font-size="10.0" textLength="68.5" lengthAdjust="spacingAndGlyphs" fill="#2a2a2a" stroke="#2a2a2a" stroke-width="0.15" font-family="Liberation Sans, Arial, sans-serif">Fresh.fragrance</text>
<text x="141.5" y="443.9" font-size="10.0" textLength="24.8" lengthAdjust="spacingAndGlyphs" fill="#2a2a2a" stroke="#2a2a2a" stroke-width="0.15" font-family="Liberation Sans, Arial, sans-serif">Apple</text>
<text x="102.2" y="457.7" font-size="10.0" textLength="48.9" lengthAdjust="spacingAndGlyphs" fill="#2a2a2a" stroke="#2a2a2a" stroke-width="0.15" font-family="Liberation Sans, Arial, sans-serif">Lightly.sour</text>
<text x="155.4" y="469.1" font-size="10.0" textLength="24.2" lengthAdjust="spacingAndGlyphs" fill="#2a2a2a" stroke="#2a2a2a" stroke-width="0.15" font-family="Liberation Sans, Arial, sans-serif">Fruity</text>
<text x="204.4" y="449.7" font-size="10.0" textLength="20.5" lengthAdjust="spacingAndGlyphs" fill="#2a2a2a" stroke="#2a2a2a" stroke-width="0.15" font-family="Liberation Sans, Arial, sans-serif">Beer</text>
<text x="197.2" y="479.4" font-size="10.0" textLength="41.5" lengthAdjust="spacingAndGlyphs" fill="#2a2a2a" stroke="#2a2a2a" stroke-width="0.15" font-family="Liberation Sans, Arial, sans-serif">Hawthorn</text>
<text x="197.2" y="490.8" font-size="10.0" textLength="27.0" lengthAdjust="spacingAndGlyphs" fill="#2a2a2a" stroke="#2a2a2a" stroke-width="0.15" font-family="Liberation Sans, Arial, sans-serif">Sweet</text>
<text x="273.5" y="458.0" font-size="10.0" textLength="30.2" lengthAdjust="spacingAndGlyphs" fill="#2a2a2a" stroke="#2a2a2a" stroke-width="0.15" font-family="Liberation Sans, Arial, sans-serif">Apricot</text>
<text x="283.9" y="468.7" font-size="10.0" textLength="63.4" lengthAdjust="spacingAndGlyphs" fill="#2a2a2a" stroke="#2a2a2a" stroke-width="0.15" font-family="Liberation Sans, Arial, sans-serif">Lightly.fragrant</text>
<text x="266.6" y="486.0" font-size="10.0" textLength="36.7" lengthAdjust="spacingAndGlyphs" fill="#2a2a2a" stroke="#2a2a2a" stroke-width="0.15" font-family="Liberation Sans, Arial, sans-serif">Fragrant</text>
<text x="280.8" y="499.9" font-size="10.0" textLength="28.0" lengthAdjust="spacingAndGlyphs" fill="#2a2a2a" stroke="#2a2a2a" stroke-width="0.15" font-family="Liberation Sans, Arial, sans-serif">Honey</text>
<text x="338" y="489.0" font-size="10.0" textLength="84.1" lengthAdjust="spacingAndGlyphs" fill="#2a2a2a" stroke="#2a2a2a" stroke-width="0.15" font-family="Liberation Sans, Arial, sans-serif">Balanced.fragrance</text>
</svg>
</body></html>
